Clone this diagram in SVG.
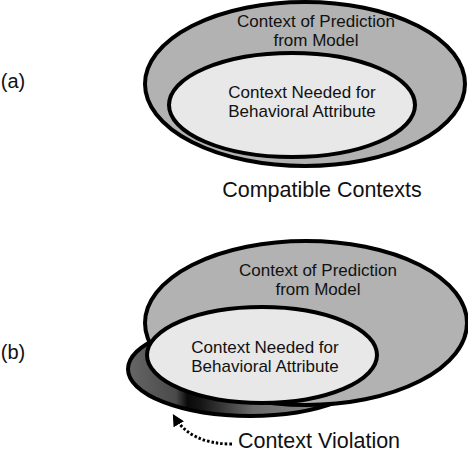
<svg xmlns="http://www.w3.org/2000/svg" width="468" height="453" viewBox="0 0 468 453">
<style>
.t{font-family:"Liberation Sans",Arial,sans-serif;fill:#111;text-anchor:middle}
.s{font-size:17px}
.b{font-size:21.5px}
.outer{fill:#b2b2b2;stroke:#000;stroke-width:4}
.inner{fill:#e8e8e8;stroke:#000;stroke-width:4}
</style>
<defs>
<linearGradient id="dk" gradientUnits="userSpaceOnUse" x1="128" y1="0" x2="320" y2="0">
<stop offset="0" stop-color="#666"/>
<stop offset="0.25" stop-color="#4a4a4a"/>
<stop offset="0.31" stop-color="#0a0a0a"/>
<stop offset="0.38" stop-color="#151515"/>
<stop offset="0.65" stop-color="#6a6a6a"/>
<stop offset="1" stop-color="#8a8a8a"/>
</linearGradient>
<marker id="ah" viewBox="0 0 10 10" refX="8" refY="5" markerWidth="4" markerHeight="4" orient="auto">
<path d="M0,0 L10,5 L0,10 z" fill="#000"/>
</marker>
</defs>
<rect width="468" height="453" fill="#fff"/>
<g id="label-a"><text class="t" x="13" y="88" style="font-size:20px">(a)</text></g>
<g id="a-prediction">
<ellipse class="outer" cx="305" cy="84" rx="160" ry="82"/>
<text class="t s" x="316" y="27">Context of Prediction</text>
<text class="t s" x="316" y="45.5">from Model</text>
</g>
<g id="a-needed">
<ellipse class="inner" cx="292" cy="105" rx="123" ry="52"/>
<text class="t s" x="302" y="98">Context Needed for</text>
<text class="t s" x="302" y="116.5">Behavioral Attribute</text>
</g>
<g id="a-caption"><text class="t b" x="322" y="197">Compatible Contexts</text></g>
<g id="label-b"><text class="t" x="13" y="359" style="font-size:20px">(b)</text></g>
<g id="b-violation">
<ellipse cx="250" cy="369" rx="122" ry="47" fill="url(#dk)" stroke="#000" stroke-width="4"/>
</g>
<g id="b-prediction">
<ellipse class="outer" cx="306" cy="323" rx="161" ry="82"/>
<text class="t s" x="318" y="276">Context of Prediction</text>
<text class="t s" x="318" y="294.5">from Model</text>
</g>
<g id="b-needed">
<ellipse class="inner" cx="262" cy="355" rx="115" ry="48"/>
<text class="t s" x="265" y="353">Context Needed for</text>
<text class="t s" x="265" y="371.5">Behavioral Attribute</text>
</g>
<g id="connectors">
<path d="M232,444 Q190,444 174,416" fill="none" stroke="#000" stroke-width="3" stroke-dasharray="2.5 2" marker-end="url(#ah)"/>
</g>
<g id="b-caption"><text class="t b" x="319" y="448">Context Violation</text></g>
</svg>
